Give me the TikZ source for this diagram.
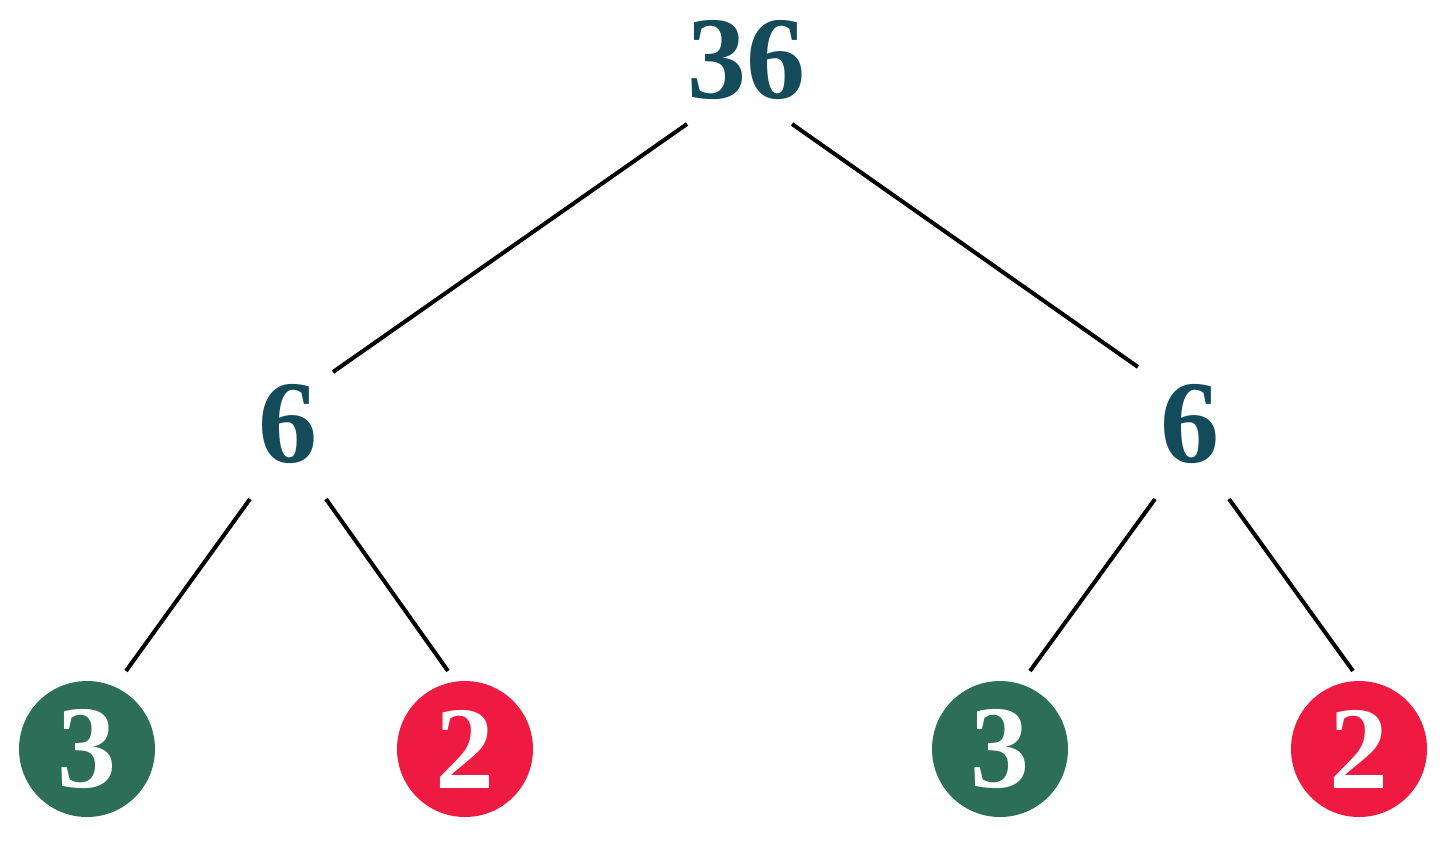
\documentclass[tikz,border=0pt]{standalone}
\usepackage{fontspec}
\setmainfont{Liberation Serif}
\usetikzlibrary{calc}
\definecolor{numteal}{HTML}{134B5A}
\definecolor{leafgreen}{HTML}{2C6E57}
\definecolor{leafred}{HTML}{EE1A41}
\tikzset{
    num/.style={anchor=base,inner sep=0pt,text=numteal,font=\fontsize{59}{60}\bfseries\selectfont},
    leaf/.style={circle,minimum size=68pt,inner sep=0pt,text=white,font=\fontsize{59}{60}\bfseries\selectfont},
    edge/.style={line width=2pt,black}
}
\begin{document}
\begin{tikzpicture}[x=0.5pt,y=-0.5pt]
                \useasboundingbox (0,0) rectangle (1440,858);
                %% numbers
                \node[num] (root) at (746,98) {36};
                \node[num] (left6) at (288,462) {6};
                \node[num] (right6) at (1190,462) {6};
                %% leaves
                \node[leaf,fill=leafgreen] (left3) at (87,749) {3};
                \node[leaf,fill=leafred] (left2) at (465,749) {2};
                \node[leaf,fill=leafgreen] (right3) at (1000,749) {3};
                \node[leaf,fill=leafred] (right2) at (1359,749) {2};
                %% branches
                \draw[edge] ($(root.base)+(-59,26)$) -- ($(left6.base)+(45,-90)$);
                \draw[edge] ($(root.base)+(46,26)$) -- ($(right6.base)+(-52,-95)$);
                \draw[edge] ($(left6.base)+(-38,37)$) -- ($(left3)+(39,-78)$);
                \draw[edge] ($(left6.base)+(38,37)$) -- ($(left2)+(-17,-78)$);
                \draw[edge] ($(right6.base)+(-35,37)$) -- ($(right3)+(30,-78)$);
                \draw[edge] ($(right6.base)+(39,37)$) -- ($(right2)+(-6,-78)$);
\end{tikzpicture}
\end{document}
